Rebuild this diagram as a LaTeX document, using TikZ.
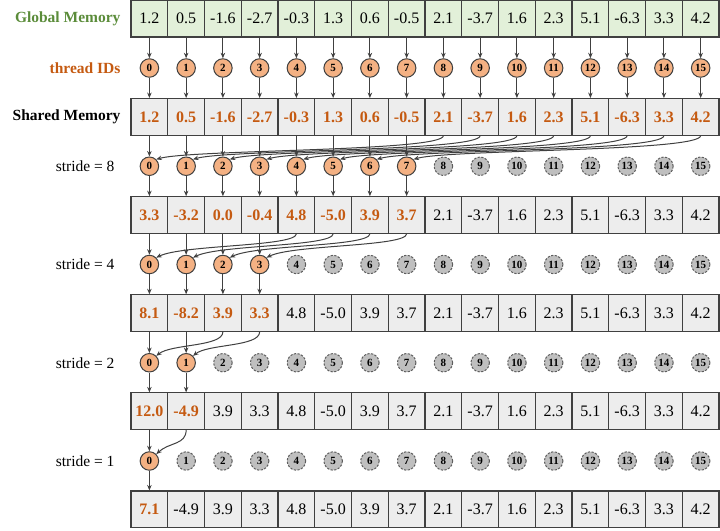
\documentclass[tikz,border=0pt]{standalone}
\usepackage{fontspec}
\setmainfont{Liberation Serif}
\usetikzlibrary{arrows.meta}
\definecolor{lin}{HTML}{404040}
\definecolor{gfill}{HTML}{E2F0D9}
\definecolor{sfill}{HTML}{EDEDED}
\definecolor{ortext}{HTML}{C55A11}
\definecolor{ofill}{HTML}{F4B183}
\definecolor{idlefill}{HTML}{BFBFBF}
\definecolor{gtext}{HTML}{5B8C3A}
\tikzset{
  cellbox/.style={draw=lin, line width=1.1pt, minimum width=36.75pt, minimum height=36.5pt, inner sep=0pt, font=\fontsize{16}{16}\selectfont},
  gcell/.style={cellbox, fill=gfill},
  scell/.style={cellbox, fill=sfill},
  hotval/.style={text=ortext, font=\fontsize{16}{16}\selectfont\bfseries},
  thr/.style={circle, draw=lin, line width=1pt, fill=ofill, minimum size=18.5pt, inner sep=0pt, font=\fontsize{11}{11}\selectfont\bfseries},
  idle/.style={circle, draw=lin!85, dash pattern=on 2.2pt off 1.5pt, line width=1pt, fill=idlefill, minimum size=18.5pt, inner sep=0pt, font=\fontsize{11}{11}\selectfont\bfseries},
  arr/.style={draw=lin, line width=1pt, -{Stealth[length=5.5pt,width=4.5pt]}},
  rowlabel/.style={anchor=east, font=\fontsize{15.5}{16}\selectfont\bfseries},
  stridelabel/.style={anchor=east, font=\fontsize{15.5}{16}\selectfont},
}
\begin{document}
\begin{tikzpicture}[x=1pt,y=1pt]
\useasboundingbox (0,0) rectangle (720,-530);
% memory rows
\foreach \k/\hot/\vals in {
  0/0/{1.2,0.5,-1.6,-2.7,-0.3,1.3,0.6,-0.5,2.1,-3.7,1.6,2.3,5.1,-6.3,3.3,4.2},
  1/16/{1.2,0.5,-1.6,-2.7,-0.3,1.3,0.6,-0.5,2.1,-3.7,1.6,2.3,5.1,-6.3,3.3,4.2},
  2/8/{3.3,-3.2,0.0,-0.4,4.8,-5.0,3.9,3.7,2.1,-3.7,1.6,2.3,5.1,-6.3,3.3,4.2},
  3/4/{8.1,-8.2,3.9,3.3,4.8,-5.0,3.9,3.7,2.1,-3.7,1.6,2.3,5.1,-6.3,3.3,4.2},
  4/2/{12.0,-4.9,3.9,3.3,4.8,-5.0,3.9,3.7,2.1,-3.7,1.6,2.3,5.1,-6.3,3.3,4.2},
  5/1/{7.1,-4.9,3.9,3.3,4.8,-5.0,3.9,3.7,2.1,-3.7,1.6,2.3,5.1,-6.3,3.3,4.2}}{
  \foreach \v [count=\j from 0] in \vals {
    \ifnum\k=0
      \node[gcell] (c\k-\j) at (149.4+36.75*\j, -18.75-98.1*\k) {\v};
    \else
      \ifnum\j<\hot
        \node[scell,hotval] (c\k-\j) at (149.4+36.75*\j, -18.75-98.1*\k) {\v};
      \else
        \node[scell] (c\k-\j) at (149.4+36.75*\j, -18.75-98.1*\k) {\v};
      \fi
    \fi
  }
}
% thread circles
\foreach \m/\act in {0/16,1/8,2/4,3/2,4/1}{
  \foreach \j in {0,...,15}{
    \ifnum\j<\act
      \node[thr] (t\m-\j) at (149.4+36.75*\j, -68-98.25*\m) {\j};
    \else
      \node[idle] (t\m-\j) at (149.4+36.75*\j, -68-98.25*\m) {\j};
    \fi
  }
}
% labels
\node[rowlabel, text=gtext] (lg) at (124,-18.75) {Global Memory};
\node[rowlabel, text=ortext] (lt) at (124,-68) {thread IDs};
\node[rowlabel] (ls) at (124,-116.85) {Shared Memory};
\node[stridelabel] (l8) at (118,-166.25) {stride = 8};
\node[stridelabel] (l4) at (118,-264.5) {stride = 4};
\node[stridelabel] (l2) at (118,-362.75) {stride = 2};
\node[stridelabel] (l1) at (118,-461) {stride = 1};
% straight arrows
\foreach \m/\act in {0/16,1/8,2/4,3/2,4/1}{
  \pgfmathtruncatemacro{\nx}{\m+1}
  \pgfmathtruncatemacro{\last}{\act-1}
  \foreach \j in {0,...,\last}{
    \draw[arr] (c\m-\j.south) -- (t\m-\j.north);
    \draw[arr] (t\m-\j.south) -- (c\nx-\j.north);
  }
}
% reduction curves
\foreach \m/\act/\ca/\cb/\cc in {1/8/16/34/10,2/4/13/26/13,3/2/15/15/12,4/1/15/13/12}{
  \pgfmathtruncatemacro{\last}{\act-1}
  \foreach \j in {0,...,\last}{
    \pgfmathtruncatemacro{\src}{\j+\act}
    \draw[arr] (c\m-\src.south) .. controls +(0,-\ca) and +(\cb,\cc) .. (t\m-\j.north east);
  }
}
\end{tikzpicture}
\end{document}
